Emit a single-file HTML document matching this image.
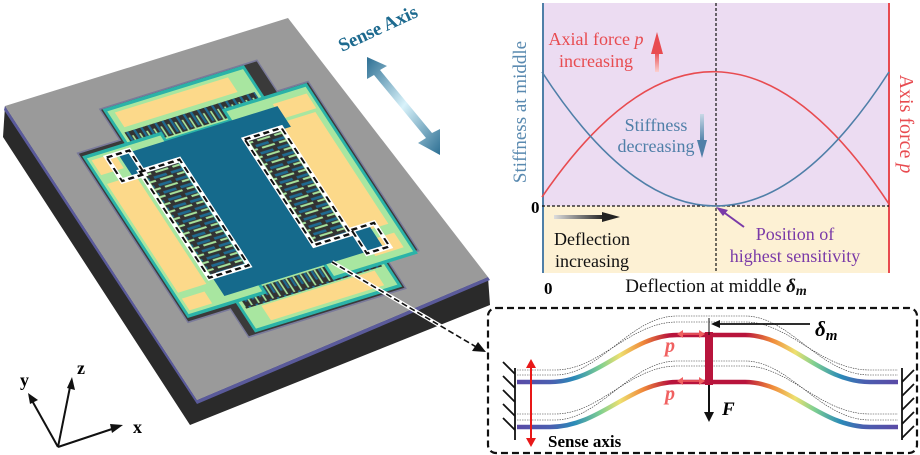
<!DOCTYPE html>
<html><head><meta charset="utf-8"><style>
html,body{margin:0;padding:0;background:#fff;}
svg{display:block;}
text{font-family:"Liberation Serif",serif;}
</style></head><body>
<svg width="920" height="455" viewBox="0 0 920 455" xmlns="http://www.w3.org/2000/svg">
<defs>
<linearGradient id="sa" x1="0" y1="0" x2="1" y2="1">
<stop offset="0" stop-color="#2d6f93"/><stop offset="0.5" stop-color="#d8f2fa"/><stop offset="1" stop-color="#2d6f93"/></linearGradient>
<linearGradient id="beam" gradientUnits="userSpaceOnUse" x1="517" y1="0" x2="898" y2="0">
<stop offset="0" stop-color="#5a4aa6"/><stop offset="0.09" stop-color="#4a5fb0"/><stop offset="0.15" stop-color="#2a8ab8"/><stop offset="0.22" stop-color="#80d090"/><stop offset="0.27" stop-color="#eee070"/><stop offset="0.33" stop-color="#f08a3a"/><stop offset="0.4" stop-color="#b8143c"/><stop offset="0.6" stop-color="#b8143c"/><stop offset="0.67" stop-color="#f08a3a"/><stop offset="0.73" stop-color="#eee070"/><stop offset="0.78" stop-color="#80d090"/><stop offset="0.85" stop-color="#2a8ab8"/><stop offset="0.91" stop-color="#4a5fb0"/><stop offset="1" stop-color="#5a4aa6"/></linearGradient>
<linearGradient id="ra" x1="0" y1="1" x2="0" y2="0"><stop offset="0" stop-color="#fbd0d0"/><stop offset="1" stop-color="#e84b50"/></linearGradient>
<linearGradient id="ba" x1="0" y1="0" x2="0" y2="1"><stop offset="0" stop-color="#c8d8e6"/><stop offset="1" stop-color="#4f7fa8"/></linearGradient>
<linearGradient id="ka" x1="0" y1="0" x2="1" y2="0"><stop offset="0" stop-color="#ddd"/><stop offset="1" stop-color="#222"/></linearGradient>
<pattern id="comb" width="2.5" height="6" patternUnits="userSpaceOnUse">
<rect width="2.5" height="6" fill="#333"/><rect x="0.5" y="0" width="0.8" height="4.5" fill="#1f6a90"/><rect x="1.6" y="1.5" width="0.6" height="4.5" fill="#a7e39c"/></pattern>
<pattern id="combv" width="6" height="2.5" patternUnits="userSpaceOnUse">
<rect width="6" height="2.5" fill="#333"/><rect x="0" y="0.5" width="4.5" height="0.8" fill="#1f6a90"/><rect x="1.5" y="1.6" width="4.5" height="0.6" fill="#a7e39c"/></pattern>
</defs>

<!-- chip -->
<polygon points="5,106 3,137 190,425 490,305 488,277 197,400" fill="#2a2a2a"/>
<polygon points="5,106 197,400 488,277 490,280 197,404 4,110" fill="#5a5a9a"/>
<polygon points="5,106 288,18 488,277 197,400" fill="#9a9a9a"/>
<g transform="matrix(2.83,-0.88,1.92,2.94,5,106)">
<rect x="12" y="19.5" width="82" height="58" fill="#7a7a9a"/>
<rect x="27" y="9" width="56" height="78" fill="#7a7a9a"/>
<rect x="12.5" y="20" width="81" height="57" fill="#3a3a3a"/>
<rect x="27.5" y="9.5" width="55" height="77" fill="#3a3a3a"/>
<rect x="28" y="9.5" width="50" height="15" fill="#2bb3a8"/>
<rect x="29" y="10.5" width="48" height="13" fill="#a8e6a0"/>
<rect x="31" y="11.5" width="40" height="5" fill="#fcd98a"/>
<rect x="30" y="18" width="46" height="5" fill="url(#comb)"/>
<rect x="30" y="72" width="52" height="14" fill="#2bb3a8"/>
<rect x="31" y="73" width="50" height="12" fill="#a8e6a0"/>
<rect x="37" y="79" width="40" height="5" fill="#fcd98a"/>
<rect x="32" y="73.5" width="48" height="5" fill="url(#comb)"/>
<rect x="13" y="21" width="28" height="55" fill="#2bb3a8"/>
<rect x="14" y="22" width="26" height="53" fill="#a8e6a0"/>
<rect x="15" y="23" width="8" height="5" fill="#fcd98a"/>
<rect x="15" y="31" width="10" height="37" fill="#fcd98a"/>
<rect x="15" y="70" width="8" height="4" fill="#fcd98a"/>
<rect x="28" y="31" width="12" height="35" fill="url(#combv)"/>
<rect x="63" y="20" width="30" height="58" fill="#2bb3a8"/>
<rect x="64" y="21" width="28" height="56" fill="#a8e6a0"/>
<rect x="79" y="23" width="12" height="5" fill="#fcd98a"/>
<rect x="77" y="29" width="13" height="38" fill="#fcd98a"/>
<rect x="80" y="70" width="10" height="5" fill="#fcd98a"/>
<rect x="65" y="31" width="11" height="35" fill="url(#combv)"/>
<path d="M24,24 L80,24 L80,31 L64,31 L64,66 L84,66 L84,73 L28,73 L28,66 L41,66 L41,31 L24,31 Z" fill="#156a8c"/>
<g fill="none" stroke="#fff" stroke-width="1.6"><rect x="27" y="30.5" width="14" height="36"/><rect x="64" y="30.5" width="13" height="36"/><rect x="20" y="23.5" width="8" height="8"/><rect x="78" y="65.5" width="8" height="8"/></g>
<g fill="none" stroke="#111" stroke-width="0.7" stroke-dasharray="2,1.3"><rect x="27" y="30.5" width="14" height="36"/><rect x="64" y="30.5" width="13" height="36"/><rect x="20" y="23.5" width="8" height="8"/><rect x="78" y="65.5" width="8" height="8"/></g>
</g>
<polygon points="367,57 387,66 380,70 432,133 440,129 440,155 418,143 426,138 374,75 367,79" fill="url(#sa)"/>
<text x="0" y="0" transform="translate(342,52) rotate(-25)" font-size="19" font-weight="bold" fill="#1d6a8f">Sense Axis</text>
<line x1="332" y1="262" x2="478" y2="348" stroke="#fff" stroke-width="4"/>
<line x1="332" y1="262" x2="478" y2="348" stroke="#111" stroke-width="1.6" stroke-dasharray="6,3"/>
<polygon points="486,352 472,351 478,342" fill="#111"/>
<g stroke="#111" stroke-width="2" fill="none"><line x1="58" y1="447" x2="30" y2="397"/><line x1="58" y1="447" x2="71" y2="382"/><line x1="58" y1="447" x2="118" y2="427"/></g>
<polygon points="28,393 38,400 30,404" fill="#111"/><polygon points="72,377 75,390 67,388" fill="#111"/><polygon points="123,425 112,433 110,424" fill="#111"/>
<text x="20" y="386" font-size="18" font-weight="bold">y</text><text x="77" y="374" font-size="18" font-weight="bold">z</text><text x="133" y="433" font-size="18" font-weight="bold">x</text>

<rect x="542" y="3" width="347" height="203" fill="#ecdcf2"/>
<rect x="542" y="206" width="347" height="67" fill="#fdf1d4"/>
<line x1="543" y1="3" x2="543" y2="273" stroke="#4f7fa8" stroke-width="2"/>
<line x1="889" y1="3" x2="889" y2="273" stroke="#e84b50" stroke-width="2"/>
<line x1="542" y1="206" x2="889" y2="206" stroke="#111" stroke-width="1.2" stroke-dasharray="3,2"/>
<line x1="716" y1="3" x2="716" y2="273" stroke="#111" stroke-width="1.2" stroke-dasharray="3,2"/>
<path d="M542,197 Q716,-57 889,204" fill="none" stroke="#e84b50" stroke-width="1.6"/>
<path d="M542,72 Q716,340 889,72" fill="none" stroke="#4f7fa8" stroke-width="1.6"/>
<g font-size="18">
<text x="596" y="45" fill="#e84b50" text-anchor="middle">Axial force <tspan font-style="italic">p</tspan></text>
<text x="596" y="67" fill="#e84b50" text-anchor="middle">increasing</text>
<text x="656" y="131" fill="#4f7fa8" text-anchor="middle">Stiffness</text>
<text x="656" y="152" fill="#4f7fa8" text-anchor="middle">decreasing</text>
<text x="592" y="245" fill="#111" text-anchor="middle">Deflection</text>
<text x="592" y="267" fill="#111" text-anchor="middle">increasing</text>
<text x="795" y="240" fill="#7a3aa8" text-anchor="middle">Position of</text>
<text x="795" y="262" fill="#7a3aa8" text-anchor="middle">highest sensitivity</text>
<text x="716" y="292" fill="#111" text-anchor="middle" font-size="19">Deflection at middle <tspan font-style="italic" font-weight="bold">δ<tspan font-size="14" dy="3">m</tspan></tspan></text>
<text transform="translate(526,112) rotate(-90)" fill="#5a8ab0" text-anchor="middle" font-size="19">Stiffness at middle</text>
<text transform="translate(900,124) rotate(90)" fill="#e84b50" text-anchor="middle" font-size="20">Axis force <tspan font-style="italic">p</tspan></text>
</g>
<text x="531" y="213" font-size="17" font-weight="bold">0</text>
<text x="544" y="294" font-size="17" font-weight="bold">0</text>
<polygon points="655,52 659,52 659,72 655,72" fill="url(#ra)"/><polygon points="651,54 657,32 663,54" fill="#e84b50"/>
<rect x="700" y="114" width="4" height="28" fill="url(#ba)"/><polygon points="697,140 702,158 707,140" fill="#4f7fa8"/>
<rect x="554" y="215" width="50" height="4" fill="url(#ka)"/><polygon points="602,212 620,217 602,222" fill="#222"/>
<line x1="744" y1="227" x2="722" y2="211" stroke="#7a3aa8" stroke-width="2"/><polygon points="716,207 728,210 723,216" fill="#7a3aa8"/>

<rect x="488" y="308" width="429" height="145" rx="8" fill="#fff" stroke="#111" stroke-width="2.2" stroke-dasharray="7,4"/>
<g fill="none" stroke="#333" stroke-width="0.6" stroke-dasharray="1.5,1">
<path d="M517,375 L555,375 C600,375 630,316 677,316 L745,316 C790,316 820,375 870,375 L898,375"/>
<path d="M517,370 L555,370 C600,370 630,322 677,322 L745,322 C790,322 820,370 870,370 L898,370"/>
<path d="M517,420 L555,420 C600,420 630,361 677,361 L745,361 C790,361 820,420 870,420 L898,420"/>
<path d="M517,414 L555,414 C600,414 630,366 677,366 L745,366 C790,366 820,414 870,414 L898,414"/>
</g>
<g fill="none" stroke="url(#beam)" stroke-width="4.5">
<path d="M517,382 L550,382 C600,382 630,335 677,335 L706,335 M712,335 L745,335 C790,335 820,382 870,382 L898,382"/>
<path d="M517,427 L550,427 C600,427 630,382 677,382 L706,382 M712,382 L745,382 C790,382 820,427 870,427 L898,427"/>
</g>
<rect x="705" y="332" width="8" height="53" fill="#b8143c"/>
<g stroke="#111" stroke-width="1.8"><line x1="515" y1="368" x2="515" y2="440"/><line x1="902" y1="368" x2="902" y2="440"/>
<line x1="515" y1="374" x2="503" y2="362"/><line x1="515" y1="388" x2="503" y2="376"/><line x1="515" y1="402" x2="503" y2="390"/><line x1="515" y1="416" x2="503" y2="404"/><line x1="515" y1="430" x2="503" y2="418"/>
<line x1="902" y1="382" x2="914" y2="370"/><line x1="902" y1="396" x2="914" y2="384"/><line x1="902" y1="410" x2="914" y2="398"/><line x1="902" y1="424" x2="914" y2="412"/><line x1="902" y1="438" x2="914" y2="426"/></g>
<line x1="531" y1="366" x2="531" y2="440" stroke="#e81818" stroke-width="2"/>
<polygon points="526,368 531,359 536,368" fill="#e81818"/><polygon points="526,438 531,447 536,438" fill="#e81818"/>
<text x="548" y="447" font-size="17" font-weight="bold">Sense axis</text>
<g stroke="#f06060" stroke-width="1.5"><line x1="680" y1="334" x2="702" y2="334"/><line x1="680" y1="381" x2="702" y2="381"/></g>
<g fill="#f06060"><polygon points="677,334 683,330 683,338"/><polygon points="705,334 699,330 699,338"/><polygon points="677,381 683,377 683,385"/><polygon points="705,381 699,377 699,385"/></g>
<text x="665" y="352" font-size="20" font-style="italic" font-weight="bold" fill="#f06060">p</text>
<text x="665" y="400" font-size="20" font-style="italic" font-weight="bold" fill="#f06060">p</text>
<line x1="709" y1="385" x2="709" y2="414" stroke="#111" stroke-width="2"/><polygon points="704,412 709,422 714,412" fill="#111"/>
<text x="722" y="415" font-size="19" font-style="italic" font-weight="bold">F</text>
<line x1="709" y1="318" x2="709" y2="335" stroke="#111" stroke-width="1"/>
<line x1="718" y1="324" x2="810" y2="324" stroke="#111" stroke-width="1.8"/><polygon points="711,324 720,320 720,328" fill="#111"/>
<text x="815" y="336" font-size="21" font-style="italic" font-weight="bold">δ<tspan font-size="15" dy="4">m</tspan></text>
</svg>
</body></html>
